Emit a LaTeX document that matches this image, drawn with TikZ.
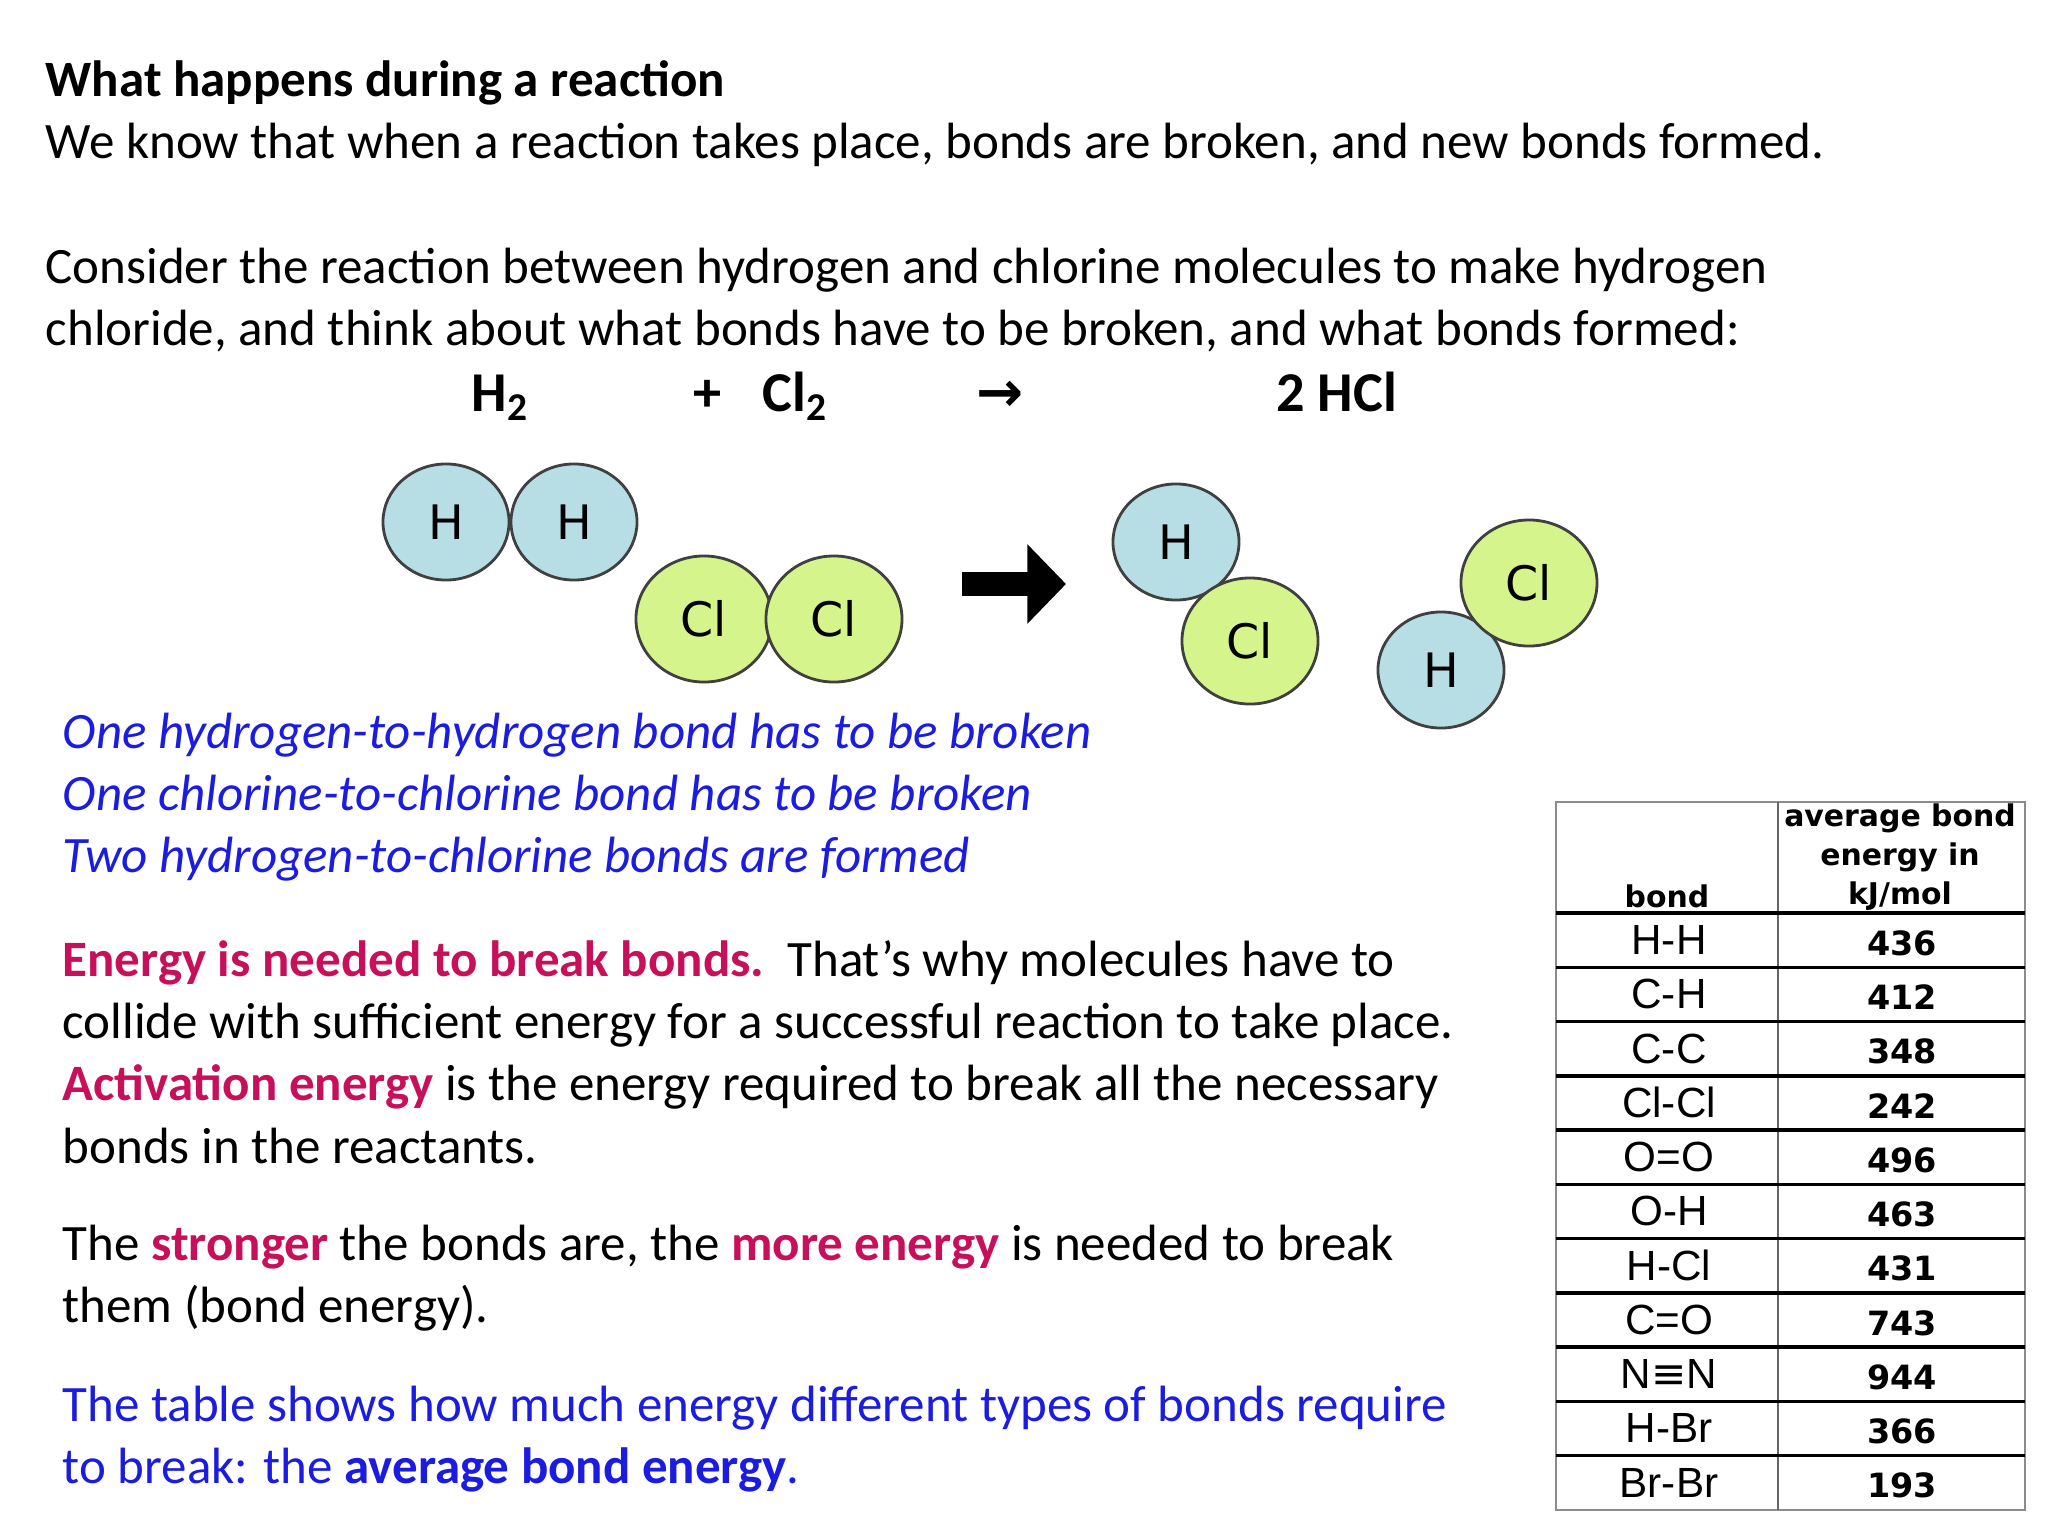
\documentclass[tikz,border=0pt]{standalone}
\usepackage{fontspec}
\setmainfont{Carlito}
\newfontfamily\arialf{Liberation Sans}
\newfontfamily\djf{DejaVu Sans}
\newfontfamily\gothf{DejaVu Sans}
\definecolor{hblue}{HTML}{B7DDE5}
\definecolor{clgreen}{HTML}{D5F58C}
\definecolor{tblue}{HTML}{1C1CE0}
\definecolor{mag}{HTML}{C8105A}
\tikzset{
  txt/.style={anchor=base west,inner sep=0pt,font=\fontsize{14.5}{17}\selectfont},
  hatom/.style={ellipse,draw=black!75,line width=0.8pt,fill=hblue,minimum width=1.26cm,minimum height=1.16cm,font=\gothf\fontsize{13.5}{16}\selectfont},
  clatom/.style={ellipse,draw=black!75,line width=0.8pt,fill=clgreen,minimum width=1.36cm,minimum height=1.26cm,font=\gothf\fontsize{13.5}{16}\selectfont},
  cell/.style={anchor=center,inner sep=0pt,font=\arialf\fontsize{12}{14}\selectfont},
  num/.style={anchor=center,inner sep=0pt,font=\djf\bfseries\fontsize{9.5}{11}\selectfont},
}
\usetikzlibrary{shapes.geometric,arrows.meta}
\begin{document}
\begin{tikzpicture}[x=0.01cm,y=-0.01cm]
\useasboundingbox (0,7) rectangle (2048,1543);
\node[txt,font=\bfseries\fontsize{14.5}{17}\selectfont] (t1) at (45,103) {What happens during a reaction};
\node[txt] (t2) at (45,165) {We know that when a reaction takes place, bonds are broken, and new bonds formed.};
\node[txt] (t3) at (45,290) {Consider the reaction between hydrogen and chlorine molecules to make hydrogen};
\node[txt] (t4) at (45,352) {chloride, and think about what bonds have to be broken, and what bonds formed:};
\begin{scope}[every node/.style={txt,font=\bfseries\fontsize{16}{19}\selectfont}]
\node (e1) at (471,418) {H\textsubscript{2}};
\node (e2) at (693,418) {+};
\node (e3) at (762,418) {Cl\textsubscript{2}};
\node (e4) at (976,418) {\djf →};
\node (e5) at (1276,418) {2 HCl};
\end{scope}
\node[hatom] (h1) at (446,529) {H};
\node[hatom] (h2) at (574,529) {H};
\node[clatom] (c1) at (704,626) {Cl};
\node[clatom] (c2) at (834,626) {Cl};
\coordinate (a1) at (962,591);
\coordinate (a2) at (1066,591);
\draw[line width=7pt,-{Triangle[length=11pt,width=22pt]}] (a1) -- (a2);
\node[hatom] (h3) at (1176,549) {H};
\node[clatom] (c3) at (1250,648) {Cl};
\node[hatom] (h4) at (1441,677) {H};
\node[clatom] (c4) at (1529,590) {Cl};
\begin{scope}[every node/.style={txt,font=\itshape\fontsize{14.5}{17}\selectfont,text=tblue}]
\node (b1) at (62,755) {One hydrogen-to-hydrogen bond has to be broken};
\node (b2) at (62,817) {One chlorine-to-chlorine bond has to be broken};
\node (b3) at (62,879) {Two hydrogen-to-chlorine bonds are formed};
\end{scope}
\node[txt] (p1) at (62,983) {\textcolor{mag}{\bfseries Energy is needed to break bonds.}\ \ That’s why molecules have to};
\node[txt] (p2) at (62,1045) {collide with sufficient energy for a successful reaction to take place.};
\node[txt] (p3) at (62,1107) {\textcolor{mag}{\bfseries Activation energy} is the energy required to break all the necessary};
\node[txt] (p4) at (62,1170) {bonds in the reactants.};
\node[txt] (q1) at (62,1267) {The \textcolor{mag}{\bfseries stronger} the bonds are, the \textcolor{mag}{\bfseries more energy} is needed to break};
\node[txt] (q2) at (62,1329) {them (bond energy).};
\node[txt,text=tblue] (r1) at (62,1428) {The table shows how much energy different types of bonds require};
\node[txt,text=tblue] (r2) at (62,1490) {to break: the \textbf{average bond energy}.};
% table
\draw[black!45,line width=0.8pt] (1556,809) rectangle (2025,1517);
\draw[black!60,line width=0.8pt] (1778,809) -- (1778,1517);
\foreach \i in {0,...,10}{\draw[black,line width=1pt] (1556,920+54.27*\i) -- (2025,920+54.27*\i);}
\node[num,font=\djf\bfseries\fontsize{8.5}{10}\selectfont] (hb) at (1667,903) {bond};
\node[num,font=\djf\bfseries\fontsize{8.5}{10}\selectfont,align=center] (he) at (1900,864) {average bond\\[1pt] energy in\\[1pt] kJ/mol};
\foreach \b/\v [count=\i from 0] in {H-H/436,C-H/412,C-C/348,Cl-Cl/242,O=O/496,O-H/463,H-Cl/431,C=O/743,N{\djf≡}N/944,H-Br/366,Br-Br/193}{
  \node[cell] (b\i) at (1669,947+54.27*\i) {\b};
  \node[num] (v\i) at (1902,950+54.27*\i) {\v};
}
\end{tikzpicture}
\end{document}
